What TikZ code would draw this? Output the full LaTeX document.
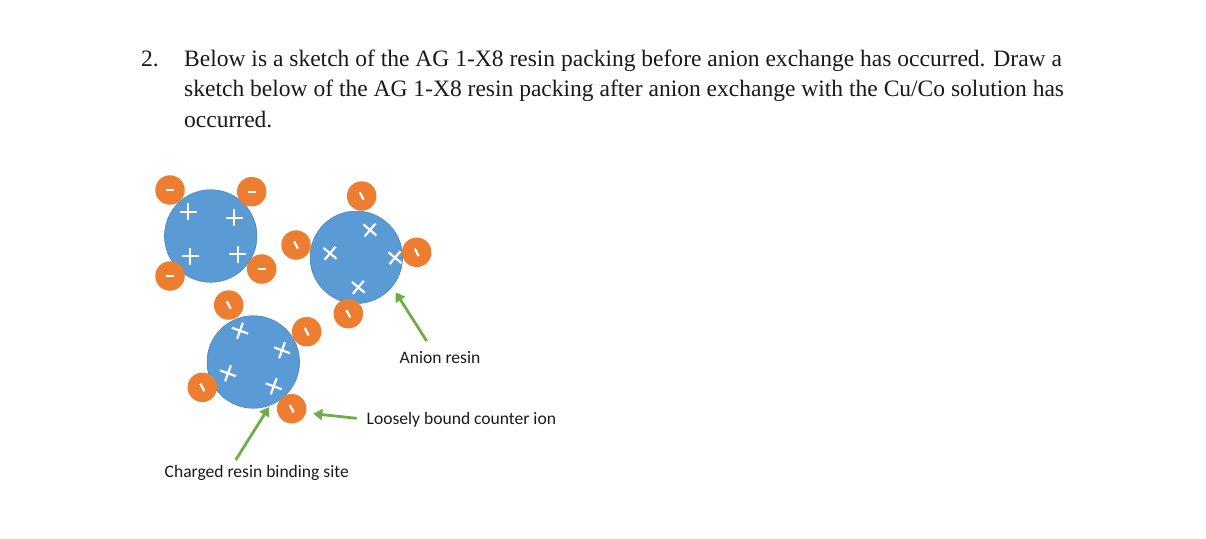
\documentclass[tikz,border=0pt]{standalone}
\usepackage{fontspec}
\setmainfont{Liberation Serif}
\newfontfamily\labelfont{Carlito}
\usetikzlibrary{arrows.meta}
\definecolor{resin}{HTML}{5B9BD5}
\definecolor{resinedge}{HTML}{4F86B8}
\definecolor{ion}{HTML}{ED7D31}
\definecolor{pointer}{HTML}{70AD47}
\definecolor{ink}{HTML}{1A1A1A}
\tikzset{
  x=1pt,y=-1pt,
  resinball/.style={circle,fill=resin,draw=resinedge,line width=.6pt,minimum size=92.5pt,inner sep=0pt},
  ionball/.style={circle,fill=ion,draw=none,minimum size=29.5pt,inner sep=0pt},
  bar/.style={draw=white,line width=2.2pt},
  pointerline/.style={draw=pointer,line width=2.8pt,-{Triangle[length=9pt,width=11pt]}},
  para/.style={anchor=base west,inner sep=0pt,font=\fontsize{23.52}{23.52}\selectfont,text=ink},
  sidelabel/.style={anchor=base west,inner sep=0pt,font=\labelfont\fontsize{17.55}{17.55}\selectfont,text=ink}
}
\newcommand{\signplus}[3]{\draw[bar,rotate around={#3:(#1,#2)}] (#1-8.5,#2) -- (#1+8.5,#2) (#1,#2-8.5) -- (#1,#2+8.5);}
\newcommand{\signminus}[3]{\draw[bar,rotate around={#3:(#1,#2)}] (#1-4.2,#2) -- (#1+4.2,#2);}
\begin{document}
\begin{tikzpicture}
\useasboundingbox (0,0) rectangle (1206,538);
% question text
\node[para] (num) at (141,66) {2.};
\node[para] (l1) at (184,66) {Below is a sketch of the AG 1-X8 resin packing before anion exchange has occurred. Draw a};
\node[para] (l2) at (184,96.5) {sketch below of the AG 1-X8 resin packing after anion exchange with the Cu/Co solution has};
\node[para] (l3) at (184,127) {occurred.};
% resin 1
\node[resinball] (r1) at (210.7,236) {};
\node[ionball] (a1) at (170,190) {};
\node[ionball] (a2) at (251.7,191.7) {};
\node[ionball] (a3) at (170,276) {};
\node[ionball] (a4) at (261.7,269) {};
\signplus{188.3}{211.7}{0}
\signplus{234.3}{217.7}{0}
\signplus{190.3}{256}{0}
\signplus{237.7}{254.3}{0}
\signminus{170}{190}{0}
\signminus{251.7}{191.7}{0}
\signminus{170}{276}{0}
\signminus{261.7}{269}{0}
% resin 2
\node[resinball] (r2) at (356.3,257.3) {};
\node[ionball] (b1) at (361.7,196) {};
\node[ionball] (b2) at (296,245) {};
\node[ionball] (b3) at (416.7,252.3) {};
\node[ionball] (b4) at (348.3,313.7) {};
\signplus{370}{230}{-40}
\signplus{330}{253.3}{-40}
\signplus{395}{257.7}{-40}
\signplus{358.3}{287.3}{-40}
\signminus{361.7}{196}{-62}
\signminus{296}{245}{-62}
\signminus{416.7}{252.3}{-62}
\signminus{348.3}{313.7}{-62}
% resin 3
\node[resinball] (r3) at (253.3,362) {};
\node[ionball] (c1) at (228.7,305) {};
\node[ionball] (c2) at (306.7,331.7) {};
\node[ionball] (c3) at (202.3,387.3) {};
\node[ionball] (c4) at (291.7,408.7) {};
\signplus{240}{330.7}{-20}
\signplus{282}{350.3}{-20}
\signplus{228}{373.3}{-20}
\signplus{273.7}{386.3}{-20}
\signminus{228.7}{305}{-62}
\signminus{306.7}{331.7}{-62}
\signminus{202.3}{387.3}{-62}
\signminus{291.7}{408.7}{-62}
% labels
\node[sidelabel] (anion) at (399.5,363) {Anion resin};
\node[sidelabel] (counter) at (366.5,424) {Loosely bound counter ion};
\node[sidelabel] (site) at (164.5,477) {Charged resin binding site};
% pointers
\coordinate (anionstart) at (426.7,341);
\coordinate (anionend) at (395.7,292.3);
\coordinate (counterstart) at (356.7,418.3);
\coordinate (counterend) at (313.3,413.7);
\coordinate (sitestart) at (235.7,460);
\coordinate (siteend) at (269,407);
\draw[pointerline] (anionstart) -- (anionend);
\draw[pointerline] (counterstart) -- (counterend);
\draw[pointerline] (sitestart) -- (siteend);
\end{tikzpicture}
\end{document}
